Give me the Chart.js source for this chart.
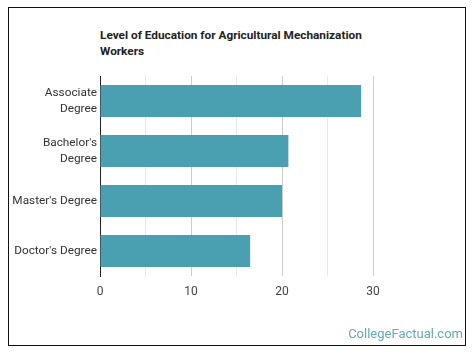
<!DOCTYPE html>
<html><head><meta charset="utf-8">
<script src="https://cdn.jsdelivr.net/npm/chart.js@4"></script>
<style>
html,body{margin:0;padding:0;background:#fff;}
#wrap{position:relative;width:476px;height:357px;overflow:hidden;}
#box{position:absolute;left:8px;top:7px;width:456px;height:337px;border:1.5px solid #111;}
#title{position:absolute;left:100px;top:27px;font:bold 11.8px Roboto,sans-serif;line-height:16px;color:#222;}
#wm{position:absolute;right:13px;top:326px;font:13px Roboto,sans-serif;color:#62a9b9;}
canvas{position:absolute;left:0;top:0;}
</style></head>
<body><div id="wrap">
<div id="box"></div>
<div id="title">Level of Education for Agricultural Mechanization<br>Workers</div>
<canvas id="c" width="476" height="357"></canvas>
<div id="wm">CollegeFactual.com</div>
</div>
<script>
const categories = [["Associate","Degree"],["Bachelor's","Degree"],"Master's Degree","Doctor's Degree"];
const values = [28.7, 20.7, 20.0, 16.5];
const xTickLabels = [0, 10, 20, 30];

new Chart(document.getElementById('c'), {
  type: 'bar',
  data: {
    labels: categories,
    datasets: [{
      data: values,
      backgroundColor: '#4a9fb1',
      borderWidth: 0,
      barPercentage: 0.64,
      categoryPercentage: 1
    }]
  },
  options: {
    indexAxis: 'y',
    responsive: false,
    animation: false,
    layout: { padding: { top: 76, right: 103, bottom: 50, left: 0 } },
    plugins: { legend: { display: false }, tooltip: { enabled: false } },
    scales: {
      x: {
        min: 0, max: 30,
        ticks: {
          stepSize: 5,
          padding: 9,
          color: '#444',
          font: { family: 'Roboto', size: 12 },
          callback: (v) => xTickLabels.includes(v) ? String(v) : ''
        },
        grid: {
          drawTicks: false,
          color: (ctx) => (ctx.tick && ctx.tick.value % 10 === 0) ? '#cccccc' : '#e8e8e8',
          lineWidth: 1
        },
        border: { display: false },
        afterFit: (s) => { s.height = 31; }
      },
      y: {
        ticks: {
          padding: 3,
          color: '#333',
          font: { family: 'Roboto', size: 11.8, lineHeight: 1.35 }
        },
        grid: { display: false, drawTicks: false },
        border: { display: true, color: '#222', width: 1 },
        afterFit: (s) => { s.width = 100; }
      }
    }
  }
});
</script>
</body></html>
